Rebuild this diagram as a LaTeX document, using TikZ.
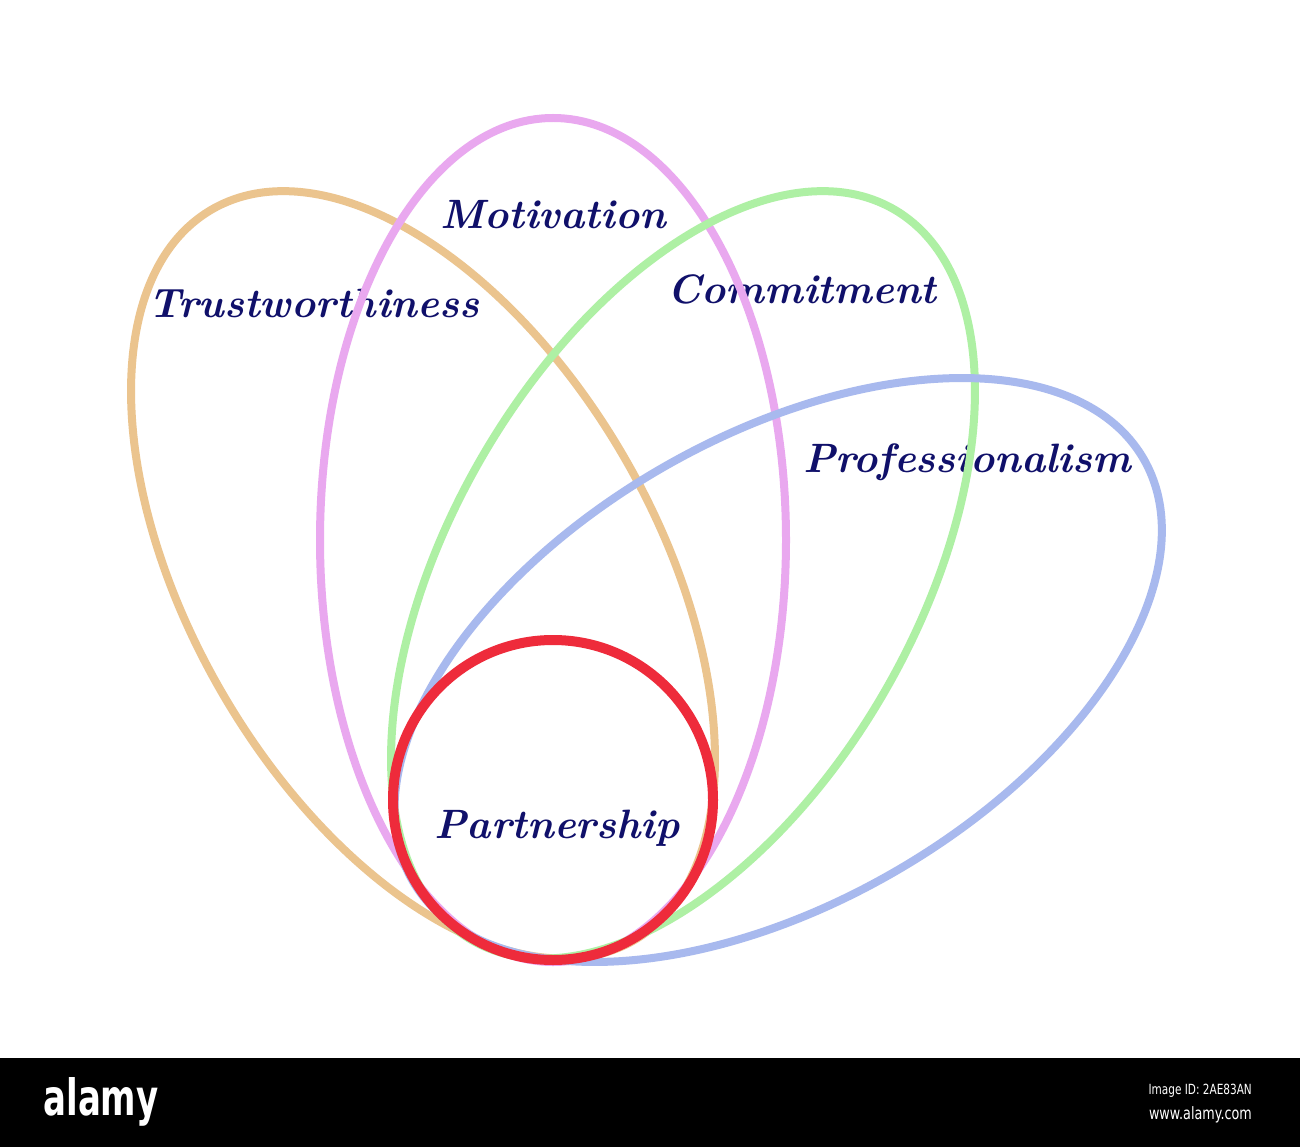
\documentclass[tikz,border=0pt]{standalone}
\usepackage{fontspec}
\newfontfamily\alfont{DejaVu Sans}
\definecolor{ctrust}{RGB}{235,196,142}
\definecolor{cmotiv}{RGB}{233,168,239}
\definecolor{ccommit}{RGB}{174,240,164}
\definecolor{cprof}{RGB}{168,185,238}
\definecolor{cpart}{RGB}{238,43,59}
\definecolor{ctext}{RGB}{16,16,106}
\begin{document}
\begin{tikzpicture}[x=1pt,y=-1pt,
  petal/.style={line width=8pt},
  lbl/.style={anchor=base, text=ctext, inner sep=0pt, font=\fontsize{41}{43}\selectfont\bfseries\itshape},
  wm/.style={text=white, inner sep=0pt, font=\alfont}]
\useasboundingbox (0,0) rectangle (1300,1147);
\fill[white] (0,0) rectangle (1300,1147);
% labels (drawn beneath the petals)
\node[lbl] (trust) at (314,317) {Trustworthiness};
\node[lbl] (motiv) at (553,229) {Motivation};
\node[lbl] (commit) at (802,304) {Commitment};
\node[lbl] (prof) at (967,472) {Professionalism};
% petals
\draw[petal, ctrust, rotate around={30:(553,800)}] (553,540) ellipse [x radius=233pt, y radius=422pt];
\draw[petal, cmotiv] (553,540) ellipse [x radius=233pt, y radius=422pt];
\draw[petal, ccommit, rotate around={-30:(553,800)}] (553,540) ellipse [x radius=233pt, y radius=422pt];
\draw[petal, cprof, rotate around={-60:(553,800)}] (553,540) ellipse [x radius=233pt, y radius=422pt];
% centre circle
\draw[cpart, line width=10pt] (553,800) circle [radius=160pt];
\node[lbl] (part) at (557,838) {Partnership};
% watermark bar
\fill[black] (0,1058) rectangle (1300,1147);
\node[wm, anchor=base] (alamy) at (101,1115) {\scalebox{0.68}[1]{\fontsize{50}{52}\selectfont\bfseries alamy}};
\node[wm, anchor=base east] (imgid) at (1252,1094) {\scalebox{0.75}[1]{\fontsize{14}{16}\selectfont Image ID: 2AE83AN}};
\node[wm, anchor=base east] (www) at (1252,1119) {\scalebox{0.75}[1]{\fontsize{17}{19}\selectfont www.alamy.com}};
\end{tikzpicture}
\end{document}
